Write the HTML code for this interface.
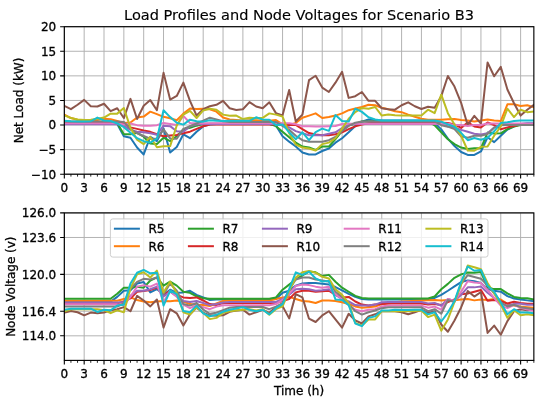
<!DOCTYPE html>
<html><head><meta charset="utf-8"><title>Load Profiles and Node Voltages for Scenario B3</title>
<style>html,body{margin:0;padding:0;background:#fff;}svg{display:block;}</style>
</head><body>
<svg width="550" height="403" viewBox="0 0 550 403">
<rect width="550" height="403" fill="#fff"/>
<text x="299.09" y="19.5" text-anchor="middle" style="font-family:'DejaVu Sans',sans-serif;stroke:#000;stroke-width:0.3px;stroke-width:0.12px;font-size:14.55px">Load Profiles and Node Voltages for Scenario B3</text>
<clipPath id="c26"><rect x="64.33" y="26.7" width="469.52" height="147.5"/></clipPath>
<path d="M64.33 26.7V174.2M84.17 26.7V174.2M104.01 26.7V174.2M123.85 26.7V174.2M143.69 26.7V174.2M163.52 26.7V174.2M183.36 26.7V174.2M203.2 26.7V174.2M223.04 26.7V174.2M242.88 26.7V174.2M262.72 26.7V174.2M282.56 26.7V174.2M302.4 26.7V174.2M322.24 26.7V174.2M342.07 26.7V174.2M361.91 26.7V174.2M381.75 26.7V174.2M401.59 26.7V174.2M421.43 26.7V174.2M441.27 26.7V174.2M461.11 26.7V174.2M480.95 26.7V174.2M500.79 26.7V174.2M520.62 26.7V174.2M64.33 174.2H533.85M64.33 149.62H533.85M64.33 125.03H533.85M64.33 100.45H533.85M64.33 75.87H533.85M64.33 51.28H533.85M64.33 26.7H533.85" stroke="#b0b0b0" stroke-width="0.96" fill="none"/>
<g clip-path="url(#c26)" fill="none" stroke-width="2.0" stroke-linejoin="round" stroke-linecap="square">
<polyline points="64.33,123.46 70.94,123.46 77.56,123.46 84.17,123.46 90.78,123.46 97.39,123.46 104.01,123.46 110.62,123.46 117.23,123.95 123.85,136.24 130.46,137.72 137.07,147.55 143.69,154.44 150.3,136.73 156.91,141.16 163.52,128.38 170.14,152.47 176.75,147.06 183.36,134.28 189.98,138.21 196.59,131.82 203.2,126.41 209.82,124.44 216.43,123.95 223.04,123.95 229.65,123.95 236.27,123.95 242.88,123.95 249.49,123.95 256.11,123.95 262.72,123.95 269.33,123.95 275.94,125.43 282.56,136.24 289.17,141.65 295.78,146.57 302.4,152.47 309.01,154.44 315.62,154.44 322.24,150.99 328.85,148.53 335.46,142.63 342.07,138.21 348.69,132.31 355.3,125.92 361.91,121.74 368.53,119.53 375.14,120.02 381.75,120.51 388.36,120.51 394.98,120.51 401.59,120.51 408.2,120.51 414.82,120.51 421.43,120.51 428.04,120.51 434.66,122.97 441.27,129.36 447.88,138.7 454.49,146.08 461.11,151.98 467.72,154.93 474.33,154.93 480.95,151.48 487.56,137.23 494.17,142.14 500.79,135.75 507.4,129.61 514.01,126.41 520.62,123.95 527.24,123.21 533.85,123.21" stroke="#1f77b4"/>
<polyline points="64.33,114.61 70.94,118.05 77.56,119.77 84.17,120.02 90.78,120.02 97.39,120.02 104.01,118.79 110.62,119.28 117.23,121 123.85,122.97 130.46,122.48 137.07,117.56 143.69,116.58 150.3,111.66 156.91,114.12 163.52,116.82 170.14,118.3 176.75,120.26 183.36,113.63 189.98,108.46 196.59,108.96 203.2,108.71 209.82,109.2 216.43,111.66 223.04,117.56 229.65,119.53 236.27,120.02 242.88,120.51 249.49,120.26 256.11,120.26 262.72,120.76 269.33,120.76 275.94,120.02 282.56,124.44 289.17,125.18 295.78,122.97 302.4,117.81 309.01,115.59 315.62,113.38 322.24,118.05 328.85,117.07 335.46,115.59 342.07,113.38 348.69,110.19 355.3,108.46 361.91,106.99 368.53,104.78 375.14,105.27 381.75,107.73 388.36,109.2 394.98,111.17 401.59,112.15 408.2,114.61 414.82,116.82 421.43,118.79 428.04,119.77 434.66,119.77 441.27,119.77 447.88,119.28 454.49,119.04 461.11,120.02 467.72,120.51 474.33,121.49 480.95,120.51 487.56,119.53 494.17,120.51 500.79,121 507.4,104.29 514.01,104.29 520.62,106.01 527.24,105.27 533.85,107.23" stroke="#ff7f0e"/>
<polyline points="64.33,122.97 70.94,122.97 77.56,122.97 84.17,122.97 90.78,122.97 97.39,122.97 104.01,122.97 110.62,122.97 117.23,122.97 123.85,134.28 130.46,134.28 137.07,132.8 143.69,136.73 150.3,143.62 156.91,144.11 163.52,137.72 170.14,141.16 176.75,136.24 183.36,129.36 189.98,127.88 196.59,125.67 203.2,124.05 209.82,123.71 216.43,123.71 223.04,123.71 229.65,123.71 236.27,123.71 242.88,123.71 249.49,123.71 256.11,123.71 262.72,123.71 269.33,123.71 275.94,126.16 282.56,131.82 289.17,137.23 295.78,142.63 302.4,146.57 309.01,147.55 315.62,150.01 322.24,146.57 328.85,146.57 335.46,139.19 342.07,131.08 348.69,125.18 355.3,123.95 361.91,121.49 368.53,121.49 375.14,121.49 381.75,121.49 388.36,121.49 394.98,121.49 401.59,121.49 408.2,121.49 414.82,121.49 421.43,121.49 428.04,121.49 434.66,125.43 441.27,132.31 447.88,139.19 454.49,144.11 461.11,147.55 467.72,149.03 474.33,148.29 480.95,148.04 487.56,132.56 494.17,133.54 500.79,133.29 507.4,129.21 514.01,126.61 520.62,124.94 527.24,123.95 533.85,123.95" stroke="#2ca02c"/>
<polyline points="64.33,122.97 70.94,122.97 77.56,122.97 84.17,122.97 90.78,122.97 97.39,122.97 104.01,122.97 110.62,122.97 117.23,122.97 123.85,123.46 130.46,127.39 137.07,128.87 143.69,130.59 150.3,131.82 156.91,134.28 163.52,136.24 170.14,135.51 176.75,134.92 183.36,133.29 189.98,131.67 196.59,128.87 203.2,126.21 209.82,124.44 216.43,124.44 223.04,124.44 229.65,124.44 236.27,124.44 242.88,124.44 249.49,124.44 256.11,124.44 262.72,124.44 269.33,124.44 275.94,124.44 282.56,123.95 289.17,124.94 295.78,124.94 302.4,129.11 309.01,133.05 315.62,134.52 322.24,135.26 328.85,135.26 335.46,134.28 342.07,132.31 348.69,129.11 355.3,126.41 361.91,124.44 368.53,123.21 375.14,122.72 381.75,122.72 388.36,122.72 394.98,122.72 401.59,122.72 408.2,122.72 414.82,122.72 421.43,122.72 428.04,122.72 434.66,122.72 441.27,122.72 447.88,122.97 454.49,124.44 461.11,127.88 467.72,122.48 474.33,126.41 480.95,127.39 487.56,122.48 494.17,125.18 500.79,129.21 507.4,127.39 514.01,125.92 520.62,124.44 527.24,124.44 533.85,124.44" stroke="#d62728"/>
<polyline points="64.33,124.34 70.94,124.34 77.56,124.34 84.17,124.34 90.78,124.34 97.39,124.34 104.01,124.34 110.62,124.34 117.23,124.34 123.85,125.67 130.46,129.85 137.07,131.82 143.69,132.31 150.3,133.29 156.91,134.77 163.52,125.67 170.14,126.16 176.75,131.33 183.36,131.67 189.98,126.21 196.59,124.59 203.2,124.05 209.82,124.05 216.43,124.05 223.04,124.05 229.65,124.05 236.27,124.05 242.88,124.05 249.49,124.05 256.11,124.05 262.72,124.05 269.33,124.05 275.94,124.05 282.56,125.18 289.17,127.39 295.78,131.08 302.4,133.29 309.01,135.26 315.62,135.26 322.24,135.26 328.85,133.78 335.46,132.31 342.07,128.13 348.69,125.18 355.3,123.71 361.91,123.71 368.53,123.71 375.14,123.71 381.75,123.71 388.36,123.71 394.98,123.71 401.59,123.71 408.2,123.71 414.82,123.71 421.43,123.71 428.04,123.71 434.66,123.71 441.27,123.71 447.88,126.41 454.49,127.39 461.11,129.85 467.72,131.82 474.33,133.78 480.95,134.52 487.56,133.29 494.17,127.39 500.79,124.94 507.4,124.94 514.01,124.94 520.62,124.94 527.24,124.94 533.85,124.94" stroke="#9467bd"/>
<polyline points="64.33,105.86 70.94,109.2 77.56,104.78 84.17,99.86 90.78,106.25 97.39,106.5 104.01,103.79 110.62,111.17 117.23,108.22 123.85,118.05 130.46,98.88 137.07,119.04 143.69,105.76 150.3,100.11 156.91,110.19 163.52,72.82 170.14,99.61 176.75,95.93 183.36,82.65 189.98,100.84 196.59,115.59 203.2,109.2 209.82,106.25 216.43,104.78 223.04,100.84 229.65,108.22 236.27,109.94 242.88,109.2 249.49,102.07 256.11,106.5 262.72,108.22 269.33,102.32 275.94,113.13 282.56,115.35 289.17,90.03 295.78,121.49 302.4,114.61 309.01,80.19 315.62,75.77 322.24,87.57 328.85,91.99 335.46,82.65 342.07,71.83 348.69,97.89 355.3,96.17 361.91,91.99 368.53,100.84 375.14,100.84 381.75,108.22 388.36,109.2 394.98,109.69 401.59,105.27 408.2,102.32 414.82,106.25 421.43,108.96 428.04,106.74 434.66,107.73 441.27,96.17 447.88,76.01 454.49,86.58 461.11,102.81 467.72,125.18 474.33,115.84 480.95,123.71 487.56,62.49 494.17,76.26 500.79,66.92 507.4,89.54 514.01,103.3 520.62,115.59 527.24,109.69 533.85,104.78" stroke="#8c564b"/>
<polyline points="64.33,123.36 70.94,123.36 77.56,123.36 84.17,123.36 90.78,123.36 97.39,123.36 104.01,123.36 110.62,123.36 117.23,123.36 123.85,124.44 130.46,123.46 137.07,125.13 143.69,125.67 150.3,125.67 156.91,125.13 163.52,122.97 170.14,123.95 176.75,124.94 183.36,115.84 189.98,122.97 196.59,123.21 203.2,123.21 209.82,123.21 216.43,123.21 223.04,123.21 229.65,123.21 236.27,123.21 242.88,123.21 249.49,123.21 256.11,123.21 262.72,123.21 269.33,123.21 275.94,123.21 282.56,123.21 289.17,123.21 295.78,124.2 302.4,126.16 309.01,126.31 315.62,126.41 322.24,126.41 328.85,126.16 335.46,125.92 342.07,123.95 348.69,123.71 355.3,123.71 361.91,123.71 368.53,123.71 375.14,123.71 381.75,123.71 388.36,123.71 394.98,123.71 401.59,123.71 408.2,123.71 414.82,123.71 421.43,123.71 428.04,123.71 434.66,123.71 441.27,123.71 447.88,123.71 454.49,124.94 461.11,124.94 467.72,125.92 474.33,124.94 480.95,124.94 487.56,123.46 494.17,123.46 500.79,123.46 507.4,123.46 514.01,123.46 520.62,123.46 527.24,123.46 533.85,123.46" stroke="#e377c2"/>
<polyline points="64.33,121.49 70.94,121.49 77.56,121.49 84.17,121.49 90.78,121.49 97.39,121.49 104.01,121.49 110.62,121.49 117.23,121.49 123.85,121.98 130.46,128.87 137.07,133.29 143.69,136 150.3,138.7 156.91,138.7 163.52,129.36 170.14,138.46 176.75,138.7 183.36,128.87 189.98,126.21 196.59,123.46 203.2,120.76 209.82,117.71 216.43,119.53 223.04,121.3 229.65,121.98 236.27,121.98 242.88,121.98 249.49,121.98 256.11,121.98 262.72,121.98 269.33,121.98 275.94,121.98 282.56,125.92 289.17,129.85 295.78,135.75 302.4,140.18 309.01,141.65 315.62,141.65 322.24,141.65 328.85,140.18 335.46,136.98 342.07,131.08 348.69,125.92 355.3,122.72 361.91,121.49 368.53,121.49 375.14,121.49 381.75,121.49 388.36,121.49 394.98,121.49 401.59,121.49 408.2,121.49 414.82,121.49 421.43,121.49 428.04,121.49 434.66,121.49 441.27,125.18 447.88,126.66 454.49,129.11 461.11,136.24 467.72,137.72 474.33,135.75 480.95,135.75 487.56,134.03 494.17,127.64 500.79,125.18 507.4,125.08 514.01,125.08 520.62,125.08 527.24,125.08 533.85,125.08" stroke="#7f7f7f"/>
<polyline points="64.33,115.35 70.94,118.05 77.56,119.53 84.17,120.02 90.78,119.77 97.39,118.79 104.01,117.56 110.62,113.63 117.23,113.63 123.85,107.97 130.46,127.88 137.07,139.69 143.69,144.11 150.3,136.98 156.91,147.31 163.52,146.32 170.14,146.08 176.75,125.43 183.36,114.61 189.98,110.92 196.59,118.05 203.2,110.43 209.82,108.71 216.43,109.69 223.04,114.61 229.65,115.84 236.27,115.59 242.88,119.04 249.49,117.81 256.11,118.3 262.72,117.81 269.33,113.38 275.94,114.61 282.56,116.58 289.17,133.29 295.78,144.6 302.4,147.55 309.01,148.53 315.62,150.5 322.24,144.11 328.85,142.63 335.46,138.21 342.07,128.62 348.69,118.79 355.3,112.15 361.91,107.97 368.53,108.71 375.14,106.99 381.75,115.59 388.36,114.61 394.98,115.35 401.59,115.59 408.2,115.59 414.82,115.59 421.43,115.59 428.04,109.69 434.66,113.13 441.27,94.7 447.88,113.13 454.49,124.44 461.11,135.75 467.72,150.5 474.33,150.75 480.95,146.81 487.56,146.57 494.17,135.75 500.79,126.41 507.4,108.71 514.01,117.07 520.62,109.69 527.24,112.15 533.85,111.41" stroke="#bcbd22"/>
<polyline points="64.33,120.76 70.94,121.25 77.56,121.49 84.17,121.49 90.78,121.25 97.39,117.56 104.01,120.51 110.62,121 117.23,123.46 123.85,127.15 130.46,132.8 137.07,138.21 143.69,141.16 150.3,142.63 156.91,138.7 163.52,110.19 170.14,117.07 176.75,122.72 183.36,124.59 189.98,119.67 196.59,121.3 203.2,121.64 209.82,120.22 216.43,120.76 223.04,121 229.65,120.76 236.27,120.76 242.88,120.76 249.49,120.76 256.11,117.27 262.72,119.67 269.33,119.67 275.94,125.13 282.56,124.44 289.17,132.31 295.78,139.19 302.4,132.31 309.01,140.18 315.62,132.06 322.24,128.62 328.85,130.84 335.46,115.1 342.07,121 348.69,121.49 355.3,108.71 361.91,111.86 368.53,117.31 375.14,119.53 381.75,120.51 388.36,120.51 394.98,120.51 401.59,120.51 408.2,120.51 414.82,120.51 421.43,120.51 428.04,120.51 434.66,120.51 441.27,121.74 447.88,124.44 454.49,126.66 461.11,132.8 467.72,140.18 474.33,137.96 480.95,139.69 487.56,137.72 494.17,131.33 500.79,122.97 507.4,122.33 514.01,121 520.62,120.51 527.24,120.51 533.85,120.51" stroke="#17becf"/>
</g>
<rect x="64.33" y="26.7" width="469.52" height="147.5" fill="none" stroke="#000" stroke-width="1.15" stroke-linejoin="miter"/>
<path d="M64.33 174.2v4.2M84.17 174.2v4.2M104.01 174.2v4.2M123.85 174.2v4.2M143.69 174.2v4.2M163.52 174.2v4.2M183.36 174.2v4.2M203.2 174.2v4.2M223.04 174.2v4.2M242.88 174.2v4.2M262.72 174.2v4.2M282.56 174.2v4.2M302.4 174.2v4.2M322.24 174.2v4.2M342.07 174.2v4.2M361.91 174.2v4.2M381.75 174.2v4.2M401.59 174.2v4.2M421.43 174.2v4.2M441.27 174.2v4.2M461.11 174.2v4.2M480.95 174.2v4.2M500.79 174.2v4.2M520.62 174.2v4.2M64.33 174.2h-4.2M64.33 149.62h-4.2M64.33 125.03h-4.2M64.33 100.45h-4.2M64.33 75.87h-4.2M64.33 51.28h-4.2M64.33 26.7h-4.2" stroke="#000" stroke-width="1.1" fill="none"/>
<path d="M70.94 174.2v2.4M77.56 174.2v2.4M90.78 174.2v2.4M97.39 174.2v2.4M110.62 174.2v2.4M117.23 174.2v2.4M130.46 174.2v2.4M137.07 174.2v2.4M150.3 174.2v2.4M156.91 174.2v2.4M170.14 174.2v2.4M176.75 174.2v2.4M189.98 174.2v2.4M196.59 174.2v2.4M209.82 174.2v2.4M216.43 174.2v2.4M229.65 174.2v2.4M236.27 174.2v2.4M249.49 174.2v2.4M256.11 174.2v2.4M269.33 174.2v2.4M275.94 174.2v2.4M289.17 174.2v2.4M295.78 174.2v2.4M309.01 174.2v2.4M315.62 174.2v2.4M328.85 174.2v2.4M335.46 174.2v2.4M348.69 174.2v2.4M355.3 174.2v2.4M368.53 174.2v2.4M375.14 174.2v2.4M388.36 174.2v2.4M394.98 174.2v2.4M408.2 174.2v2.4M414.82 174.2v2.4M428.04 174.2v2.4M434.66 174.2v2.4M447.88 174.2v2.4M454.49 174.2v2.4M467.72 174.2v2.4M474.33 174.2v2.4M487.56 174.2v2.4M494.17 174.2v2.4M507.4 174.2v2.4M514.01 174.2v2.4M527.24 174.2v2.4M533.85 174.2v2.4" stroke="#000" stroke-width="0.85" fill="none"/>
<g style="font-family:'DejaVu Sans',sans-serif;stroke:#000;stroke-width:0.3px;font-size:12px" fill="#000">
<text x="64.33" y="191.8" text-anchor="middle">0</text>
<text x="84.17" y="191.8" text-anchor="middle">3</text>
<text x="104.01" y="191.8" text-anchor="middle">6</text>
<text x="123.85" y="191.8" text-anchor="middle">9</text>
<text x="143.69" y="191.8" text-anchor="middle">12</text>
<text x="163.52" y="191.8" text-anchor="middle">15</text>
<text x="183.36" y="191.8" text-anchor="middle">18</text>
<text x="203.2" y="191.8" text-anchor="middle">21</text>
<text x="223.04" y="191.8" text-anchor="middle">24</text>
<text x="242.88" y="191.8" text-anchor="middle">27</text>
<text x="262.72" y="191.8" text-anchor="middle">30</text>
<text x="282.56" y="191.8" text-anchor="middle">33</text>
<text x="302.4" y="191.8" text-anchor="middle">36</text>
<text x="322.24" y="191.8" text-anchor="middle">39</text>
<text x="342.07" y="191.8" text-anchor="middle">42</text>
<text x="361.91" y="191.8" text-anchor="middle">45</text>
<text x="381.75" y="191.8" text-anchor="middle">48</text>
<text x="401.59" y="191.8" text-anchor="middle">51</text>
<text x="421.43" y="191.8" text-anchor="middle">54</text>
<text x="441.27" y="191.8" text-anchor="middle">57</text>
<text x="461.11" y="191.8" text-anchor="middle">60</text>
<text x="480.95" y="191.8" text-anchor="middle">63</text>
<text x="500.79" y="191.8" text-anchor="middle">66</text>
<text x="520.62" y="191.8" text-anchor="middle">69</text>
<text x="56.2" y="178.6" text-anchor="end">−10</text>
<text x="56.2" y="154.02" text-anchor="end">−5</text>
<text x="56.2" y="129.43" text-anchor="end">0</text>
<text x="56.2" y="104.85" text-anchor="end">5</text>
<text x="56.2" y="80.27" text-anchor="end">10</text>
<text x="56.2" y="55.68" text-anchor="end">15</text>
<text x="56.2" y="31.1" text-anchor="end">20</text>
</g>
<text transform="translate(22.9 100.45) rotate(-90)" text-anchor="middle" style="font-family:'DejaVu Sans',sans-serif;stroke:#000;stroke-width:0.3px;font-size:12px">Net Load (kW)</text>
<clipPath id="c212"><rect x="64.33" y="212.9" width="469.52" height="147.5"/></clipPath>
<path d="M64.33 212.9V360.4M84.17 212.9V360.4M104.01 212.9V360.4M123.85 212.9V360.4M143.69 212.9V360.4M163.52 212.9V360.4M183.36 212.9V360.4M203.2 212.9V360.4M223.04 212.9V360.4M242.88 212.9V360.4M262.72 212.9V360.4M282.56 212.9V360.4M302.4 212.9V360.4M322.24 212.9V360.4M342.07 212.9V360.4M361.91 212.9V360.4M381.75 212.9V360.4M401.59 212.9V360.4M421.43 212.9V360.4M441.27 212.9V360.4M461.11 212.9V360.4M480.95 212.9V360.4M500.79 212.9V360.4M520.62 212.9V360.4M64.33 335.82H533.85M64.33 311.23H533.85M64.33 274.36H533.85M64.33 237.48H533.85M64.33 212.9H533.85" stroke="#b0b0b0" stroke-width="0.96" fill="none"/>
<g clip-path="url(#c212)" fill="none" stroke-width="2.0" stroke-linejoin="round" stroke-linecap="square">
<polyline points="64.33,301.6 70.94,301.6 77.56,301.6 84.17,301.6 90.78,301.6 97.39,301.6 104.01,301.6 110.62,301.6 117.23,296.89 123.85,290.75 130.46,290.24 137.07,283.58 143.69,282.04 150.3,292.39 156.91,289.11 163.52,294.84 170.14,289.72 176.75,292.8 183.36,292.39 189.98,290.75 196.59,294.84 203.2,297.41 209.82,299.97 216.43,299.45 223.04,299.45 229.65,299.45 236.27,299.45 242.88,299.45 249.49,299.45 256.11,299.45 262.72,299.45 269.33,299.45 275.94,298.94 282.56,292.8 289.17,290.75 295.78,285.63 302.4,283.58 309.01,283.06 315.62,283.06 322.24,283.78 328.85,284.6 335.46,287.06 342.07,290.34 348.69,293.82 355.3,296.89 361.91,298.94 368.53,299.45 375.14,299.45 381.75,299.45 388.36,299.45 394.98,299.45 401.59,299.45 408.2,299.45 414.82,299.45 421.43,299.45 428.04,299.45 434.66,297.92 441.27,294.84 447.88,290.75 454.49,286.45 461.11,282.14 467.72,280.4 474.33,281.22 480.95,282.96 487.56,289.11 494.17,290.85 500.79,291.67 507.4,296.07 514.01,298.63 520.62,299.56 527.24,300.38 533.85,301.3" stroke="#1f77b4"/>
<polyline points="64.33,300.79 70.94,300.79 77.56,300.79 84.17,300.79 90.78,300.79 97.39,300.79 104.01,300.79 110.62,300.79 117.23,300.79 123.85,298.94 130.46,297.41 137.07,299.97 143.69,301.5 150.3,302.32 156.91,301.5 163.52,300.99 170.14,301.2 176.75,300.48 183.36,301.5 189.98,304.06 196.59,304.78 203.2,305.09 209.82,306.11 216.43,303.55 223.04,300.99 229.65,300.48 236.27,300.48 242.88,300.48 249.49,300.48 256.11,300.48 262.72,300.48 269.33,300.48 275.94,298.94 282.56,297.41 289.17,296.89 295.78,298.94 302.4,300.99 309.01,301.5 315.62,303.04 322.24,300.48 328.85,300.48 335.46,300.99 342.07,302.32 348.69,304.06 355.3,306.42 361.91,307.65 368.53,307.14 375.14,306.62 381.75,304.06 388.36,303.55 394.98,302.32 401.59,301.5 408.2,301.2 414.82,300.79 421.43,300.48 428.04,300.17 434.66,299.97 441.27,300.48 447.88,300.07 454.49,300.27 461.11,299.56 467.72,299.04 474.33,300.38 480.95,299.56 487.56,299.97 494.17,299.04 500.79,299.56 507.4,303.86 514.01,305.6 520.62,306.52 527.24,307.14 533.85,307.75" stroke="#ff7f0e"/>
<polyline points="64.33,298.74 70.94,298.74 77.56,298.74 84.17,298.74 90.78,298.74 97.39,298.74 104.01,298.74 110.62,298.74 117.23,293.82 123.85,287.67 130.46,287.67 137.07,286.65 143.69,287.67 150.3,280.5 156.91,277.43 163.52,285.63 170.14,281.73 176.75,285.63 183.36,291.77 189.98,292.8 196.59,296.28 203.2,298.22 209.82,298.74 216.43,298.74 223.04,298.74 229.65,298.74 236.27,298.74 242.88,298.74 249.49,298.74 256.11,298.74 262.72,298.74 269.33,298.74 275.94,297.41 282.56,289.72 289.17,284.6 295.78,279.48 302.4,275.38 309.01,271.59 315.62,272.31 322.24,276 328.85,274.87 335.46,281.73 342.07,287.67 348.69,291.77 355.3,295.87 361.91,297.92 368.53,298.53 375.14,298.53 381.75,298.53 388.36,298.53 394.98,298.53 401.59,298.53 408.2,298.53 414.82,298.53 421.43,298.53 428.04,298.53 434.66,296.48 441.27,289.21 447.88,283.88 454.49,277.84 461.11,274.36 467.72,272.51 474.33,272.82 480.95,272.1 487.56,287.37 494.17,289.11 500.79,289.11 507.4,293.41 514.01,296.89 520.62,297.92 527.24,298.33 533.85,299.56" stroke="#2ca02c"/>
<polyline points="64.33,303.35 70.94,303.35 77.56,303.35 84.17,303.35 90.78,303.35 97.39,303.35 104.01,303.35 110.62,303.35 117.23,303.35 123.85,301.5 130.46,298.43 137.07,291.77 143.69,291.05 150.3,290.03 156.91,287.67 163.52,294.84 170.14,290.75 176.75,294.84 183.36,297.41 189.98,297.92 196.59,297.41 203.2,300.48 209.82,304.06 216.43,305.09 223.04,303.04 229.65,303.04 236.27,303.04 242.88,303.04 249.49,303.04 256.11,303.04 262.72,303.04 269.33,303.04 275.94,303.04 282.56,300.99 289.17,298.94 295.78,292.39 302.4,290.75 309.01,290.75 315.62,291.77 322.24,291.26 328.85,290.75 335.46,294.84 342.07,297.41 348.69,296.89 355.3,301.5 361.91,304.58 368.53,305.5 375.14,304.58 381.75,304.06 388.36,303.45 394.98,303.45 401.59,303.45 408.2,303.45 414.82,303.45 421.43,303.45 428.04,304.58 434.66,304.06 441.27,305.09 447.88,302.01 454.49,299.45 461.11,294.33 467.72,293.41 474.33,291.67 480.95,289.93 487.56,300.68 494.17,299.97 500.79,301.3 507.4,303.55 514.01,301.81 520.62,303.04 527.24,303.86 533.85,303.86" stroke="#d62728"/>
<polyline points="64.33,302.42 70.94,302.42 77.56,302.42 84.17,302.42 90.78,302.42 97.39,302.42 104.01,302.42 110.62,302.42 117.23,302.42 123.85,302.01 130.46,295.87 137.07,290.75 143.69,290.75 150.3,289.21 156.91,286.65 163.52,296.38 170.14,291.77 176.75,296.38 183.36,300.99 189.98,302.01 196.59,300.99 203.2,303.04 209.82,305.09 216.43,304.06 223.04,302.42 229.65,302.01 236.27,302.01 242.88,302.01 249.49,302.01 256.11,302.01 262.72,302.01 269.33,302.01 275.94,302.01 282.56,298.94 289.17,294.84 295.78,289.21 302.4,288.7 309.01,289.21 315.62,290.75 322.24,290.24 328.85,289.21 335.46,294.84 342.07,298.94 348.69,301.5 355.3,305.09 361.91,305.5 368.53,305.5 375.14,304.58 381.75,302.32 388.36,302.01 394.98,302.01 401.59,302.01 408.2,302.01 414.82,302.01 421.43,302.01 428.04,303.55 434.66,303.04 441.27,305.7 447.88,298.94 454.49,300.99 461.11,294.84 467.72,287.37 474.33,287.37 480.95,286.45 487.56,292.8 494.17,297.92 500.79,303.86 507.4,305.6 514.01,303.86 520.62,303.86 527.24,304.78 533.85,304.78" stroke="#9467bd"/>
<polyline points="64.33,312.56 70.94,310.93 77.56,312.26 84.17,315.33 90.78,312.56 97.39,313.18 104.01,312.56 110.62,310.21 117.23,309.18 123.85,307.14 130.46,311.23 137.07,295.87 143.69,300.48 150.3,306.42 156.91,299.45 163.52,327.62 170.14,309.18 176.75,313.28 183.36,325.57 189.98,314.31 196.59,307.65 203.2,312.77 209.82,315.33 216.43,315.84 223.04,315.33 229.65,311.75 236.27,310.52 242.88,309.7 249.49,314.61 256.11,312.26 262.72,309.7 269.33,312.87 275.94,307.14 282.56,306.11 289.17,318.4 295.78,294.13 302.4,297.41 309.01,318.71 315.62,321.99 322.24,315.43 328.85,311.23 335.46,319.43 342.07,327.62 348.69,313.79 355.3,320.45 361.91,323.52 368.53,316.35 375.14,314.31 381.75,311.23 388.36,311.23 394.98,311.23 401.59,312.26 408.2,314.31 414.82,312.26 421.43,309.7 428.04,312.87 434.66,311.23 441.27,324.55 447.88,331.72 454.49,320.45 461.11,307.44 467.72,291.05 474.33,296.59 480.95,291.98 487.56,332.95 494.17,325.57 500.79,334.79 507.4,321.17 514.01,311.13 520.62,309.18 527.24,310.21 533.85,309.18" stroke="#8c564b"/>
<polyline points="64.33,304.37 70.94,304.37 77.56,304.37 84.17,304.37 90.78,304.37 97.39,304.37 104.01,304.37 110.62,304.37 117.23,304.37 123.85,305.09 130.46,296.89 137.07,286.65 143.69,285.11 150.3,286.65 156.91,283.58 163.52,302.01 170.14,290.75 176.75,296.89 183.36,304.58 189.98,308.16 196.59,305.09 203.2,307.14 209.82,309.18 216.43,306.62 223.04,305.29 229.65,305.29 236.27,305.29 242.88,305.29 249.49,305.29 256.11,305.29 262.72,305.29 269.33,305.29 275.94,304.06 282.56,299.97 289.17,293.82 295.78,285.93 302.4,284.6 309.01,285.11 315.62,286.65 322.24,287.67 328.85,286.65 335.46,294.13 342.07,298.94 348.69,305.09 355.3,309.7 361.91,311.23 368.53,309.7 375.14,309.18 381.75,306.42 388.36,305.6 394.98,305.6 401.59,305.6 408.2,305.6 414.82,305.6 421.43,305.6 428.04,307.65 434.66,306.62 441.27,309.7 447.88,298.94 454.49,300.99 461.11,291.77 467.72,281.22 474.33,282.55 480.95,282.96 487.56,289.93 494.17,297.92 500.79,305.6 507.4,308.16 514.01,304.78 520.62,307.75 527.24,309.49 533.85,310.82" stroke="#e377c2"/>
<polyline points="64.33,306.52 70.94,306.52 77.56,306.52 84.17,306.52 90.78,306.52 97.39,306.52 104.01,306.52 110.62,306.52 117.23,306.52 123.85,303.04 130.46,288.7 137.07,281.84 143.69,278.87 150.3,279.48 156.91,277.43 163.52,294.13 170.14,283.58 176.75,290.75 183.36,304.06 189.98,305.6 196.59,303.04 203.2,309.49 209.82,313.79 216.43,312.67 223.04,310.21 229.65,307.65 236.27,306.93 242.88,306.93 249.49,306.93 256.11,306.93 262.72,306.93 269.33,309.18 275.94,306.62 282.56,303.04 289.17,289.72 295.78,279.48 302.4,277.43 309.01,277.43 315.62,279.48 322.24,280.5 328.85,281.53 335.46,291.77 342.07,296.89 348.69,304.06 355.3,311.23 361.91,314.61 368.53,312.26 375.14,310.52 381.75,308.16 388.36,307.34 394.98,307.34 401.59,307.34 408.2,307.34 414.82,307.34 421.43,307.34 428.04,311.23 434.66,309.18 441.27,313.79 447.88,299.97 454.49,302.01 461.11,283.88 467.72,275.18 474.33,276.92 480.95,278.66 487.56,285.63 494.17,293.41 500.79,302.01 507.4,306.52 514.01,304.78 520.62,307.14 527.24,308.16 533.85,309.18" stroke="#7f7f7f"/>
<polyline points="64.33,311.44 70.94,309.29 77.56,309.29 84.17,309.29 90.78,309.29 97.39,309.29 104.01,310.21 110.62,313.18 117.23,310.41 123.85,312.26 130.46,288.39 137.07,274.36 143.69,272.31 150.3,277.43 156.91,270.67 163.52,292.49 170.14,281.53 176.75,293.31 183.36,312.26 189.98,314.61 196.59,307.14 203.2,312.87 209.82,319.12 216.43,317.89 223.04,312.87 229.65,311.23 236.27,310.52 242.88,309.7 249.49,309.18 256.11,310.52 262.72,309.18 269.33,314.61 275.94,309.18 282.56,306.42 289.17,290.75 295.78,277.64 302.4,272.31 309.01,271.08 315.62,272.72 322.24,276.82 328.85,278.46 335.46,289.21 342.07,294.84 348.69,303.04 355.3,322.81 361.91,325.57 368.53,319.43 375.14,319.43 381.75,311.23 388.36,311.23 394.98,310.93 401.59,311.23 408.2,311.23 414.82,310.93 421.43,310.52 428.04,317.07 434.66,314.61 441.27,330.7 447.88,319.43 454.49,302.01 461.11,284.6 467.72,265.55 474.33,267.19 480.95,269.24 487.56,282.96 494.17,293.31 500.79,304.58 507.4,317.79 514.01,310.21 520.62,315.33 527.24,314.31 533.85,315.33" stroke="#bcbd22"/>
<polyline points="64.33,309.7 70.94,308.67 77.56,308.67 84.17,308.67 90.78,308.67 97.39,311.95 104.01,309.7 110.62,310.21 117.23,305.6 123.85,304.78 130.46,283.58 137.07,272.72 143.69,269.95 150.3,273.33 156.91,272.72 163.52,305.6 170.14,290.75 176.75,294.13 183.36,311.03 189.98,312.16 196.59,305.6 203.2,313.28 209.82,316.35 216.43,314.82 223.04,311.75 229.65,309.7 236.27,308.57 242.88,307.14 249.49,309.7 256.11,311.23 262.72,309.7 269.33,314.31 275.94,308.16 282.56,304.06 289.17,289.21 295.78,272.31 302.4,274.87 309.01,271.59 315.62,278.46 322.24,281.53 328.85,281.02 335.46,299.45 342.07,299.97 348.69,305.09 355.3,323.52 361.91,326.09 368.53,317.89 375.14,316.35 381.75,310.52 388.36,310.52 394.98,309.7 401.59,310 408.2,310 414.82,309.7 421.43,309.7 428.04,314.31 434.66,312.26 441.27,321.48 447.88,312.56 454.49,300.99 461.11,282.14 467.72,266.47 474.33,270.77 480.95,269.95 487.56,285.63 494.17,291.77 500.79,302.53 507.4,314.31 514.01,309.18 520.62,312.56 527.24,312.56 533.85,313.28" stroke="#17becf"/>
</g>
<rect x="64.33" y="212.9" width="469.52" height="147.5" fill="none" stroke="#000" stroke-width="1.15" stroke-linejoin="miter"/>
<path d="M64.33 360.4v4.2M84.17 360.4v4.2M104.01 360.4v4.2M123.85 360.4v4.2M143.69 360.4v4.2M163.52 360.4v4.2M183.36 360.4v4.2M203.2 360.4v4.2M223.04 360.4v4.2M242.88 360.4v4.2M262.72 360.4v4.2M282.56 360.4v4.2M302.4 360.4v4.2M322.24 360.4v4.2M342.07 360.4v4.2M361.91 360.4v4.2M381.75 360.4v4.2M401.59 360.4v4.2M421.43 360.4v4.2M441.27 360.4v4.2M461.11 360.4v4.2M480.95 360.4v4.2M500.79 360.4v4.2M520.62 360.4v4.2M64.33 335.82h-4.2M64.33 311.23h-4.2M64.33 274.36h-4.2M64.33 237.48h-4.2M64.33 212.9h-4.2" stroke="#000" stroke-width="1.1" fill="none"/>
<path d="M70.94 360.4v2.4M77.56 360.4v2.4M90.78 360.4v2.4M97.39 360.4v2.4M110.62 360.4v2.4M117.23 360.4v2.4M130.46 360.4v2.4M137.07 360.4v2.4M150.3 360.4v2.4M156.91 360.4v2.4M170.14 360.4v2.4M176.75 360.4v2.4M189.98 360.4v2.4M196.59 360.4v2.4M209.82 360.4v2.4M216.43 360.4v2.4M229.65 360.4v2.4M236.27 360.4v2.4M249.49 360.4v2.4M256.11 360.4v2.4M269.33 360.4v2.4M275.94 360.4v2.4M289.17 360.4v2.4M295.78 360.4v2.4M309.01 360.4v2.4M315.62 360.4v2.4M328.85 360.4v2.4M335.46 360.4v2.4M348.69 360.4v2.4M355.3 360.4v2.4M368.53 360.4v2.4M375.14 360.4v2.4M388.36 360.4v2.4M394.98 360.4v2.4M408.2 360.4v2.4M414.82 360.4v2.4M428.04 360.4v2.4M434.66 360.4v2.4M447.88 360.4v2.4M454.49 360.4v2.4M467.72 360.4v2.4M474.33 360.4v2.4M487.56 360.4v2.4M494.17 360.4v2.4M507.4 360.4v2.4M514.01 360.4v2.4M527.24 360.4v2.4M533.85 360.4v2.4" stroke="#000" stroke-width="0.85" fill="none"/>
<g style="font-family:'DejaVu Sans',sans-serif;stroke:#000;stroke-width:0.3px;font-size:12px" fill="#000">
<text x="64.33" y="378" text-anchor="middle">0</text>
<text x="84.17" y="378" text-anchor="middle">3</text>
<text x="104.01" y="378" text-anchor="middle">6</text>
<text x="123.85" y="378" text-anchor="middle">9</text>
<text x="143.69" y="378" text-anchor="middle">12</text>
<text x="163.52" y="378" text-anchor="middle">15</text>
<text x="183.36" y="378" text-anchor="middle">18</text>
<text x="203.2" y="378" text-anchor="middle">21</text>
<text x="223.04" y="378" text-anchor="middle">24</text>
<text x="242.88" y="378" text-anchor="middle">27</text>
<text x="262.72" y="378" text-anchor="middle">30</text>
<text x="282.56" y="378" text-anchor="middle">33</text>
<text x="302.4" y="378" text-anchor="middle">36</text>
<text x="322.24" y="378" text-anchor="middle">39</text>
<text x="342.07" y="378" text-anchor="middle">42</text>
<text x="361.91" y="378" text-anchor="middle">45</text>
<text x="381.75" y="378" text-anchor="middle">48</text>
<text x="401.59" y="378" text-anchor="middle">51</text>
<text x="421.43" y="378" text-anchor="middle">54</text>
<text x="441.27" y="378" text-anchor="middle">57</text>
<text x="461.11" y="378" text-anchor="middle">60</text>
<text x="480.95" y="378" text-anchor="middle">63</text>
<text x="500.79" y="378" text-anchor="middle">66</text>
<text x="520.62" y="378" text-anchor="middle">69</text>
<text x="56.2" y="340.22" text-anchor="end">114.0</text>
<text x="56.2" y="315.63" text-anchor="end">116.4</text>
<text x="56.2" y="278.76" text-anchor="end">120.0</text>
<text x="56.2" y="241.88" text-anchor="end">123.6</text>
<text x="56.2" y="217.3" text-anchor="end">126.0</text>
</g>
<text transform="translate(15.3 286.65) rotate(-90)" text-anchor="middle" style="font-family:'DejaVu Sans',sans-serif;stroke:#000;stroke-width:0.3px;font-size:12px">Node Voltage (v)</text>
<text x="299.09" y="394.8" text-anchor="middle" style="font-family:'DejaVu Sans',sans-serif;stroke:#000;stroke-width:0.3px;font-size:12px">Time (h)</text>
<rect x="110.4" y="218.9" width="377.6" height="38.2" rx="2.4" ry="2.4" fill="#fff" fill-opacity="0.8" stroke="#cccccc" stroke-width="0.96"/>
<g style="font-family:'DejaVu Sans',sans-serif;stroke:#000;stroke-width:0.3px;font-size:12px" fill="#000">
<path d="M114.9 228.7h24" stroke="#1f77b4" stroke-width="2.0" stroke-linecap="square"/>
<text x="148.5" y="233.1">R5</text>
<path d="M114.9 246.2h24" stroke="#ff7f0e" stroke-width="2.0" stroke-linecap="square"/>
<text x="148.5" y="250.6">R6</text>
<path d="M188.9 228.7h24" stroke="#2ca02c" stroke-width="2.0" stroke-linecap="square"/>
<text x="222.5" y="233.1">R7</text>
<path d="M188.9 246.2h24" stroke="#d62728" stroke-width="2.0" stroke-linecap="square"/>
<text x="222.5" y="250.6">R8</text>
<path d="M262.9 228.7h24" stroke="#9467bd" stroke-width="2.0" stroke-linecap="square"/>
<text x="296.5" y="233.1">R9</text>
<path d="M262.9 246.2h24" stroke="#8c564b" stroke-width="2.0" stroke-linecap="square"/>
<text x="296.5" y="250.6">R10</text>
<path d="M344.7 228.7h24" stroke="#e377c2" stroke-width="2.0" stroke-linecap="square"/>
<text x="378.3" y="233.1">R11</text>
<path d="M344.7 246.2h24" stroke="#7f7f7f" stroke-width="2.0" stroke-linecap="square"/>
<text x="378.3" y="250.6">R12</text>
<path d="M426.4 228.7h24" stroke="#bcbd22" stroke-width="2.0" stroke-linecap="square"/>
<text x="460" y="233.1">R13</text>
<path d="M426.4 246.2h24" stroke="#17becf" stroke-width="2.0" stroke-linecap="square"/>
<text x="460" y="250.6">R14</text>
</g>
</svg>
</body></html>
